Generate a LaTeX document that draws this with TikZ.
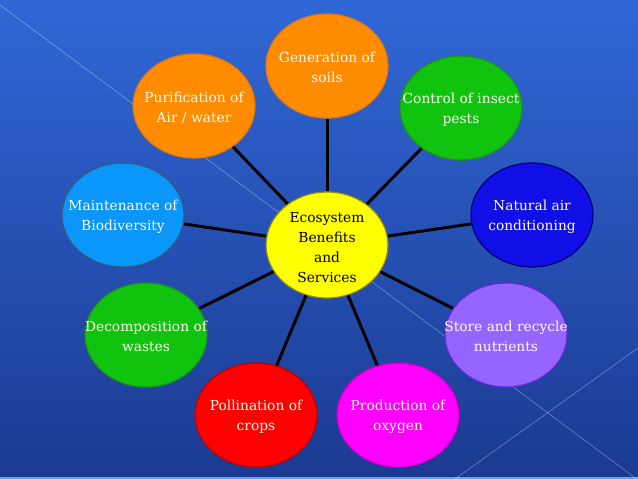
\documentclass[tikz,border=0pt]{standalone}
\usepackage{fontspec}
\setmainfont{DejaVu Serif}
\usetikzlibrary{shapes.geometric}
\definecolor{bgtop}{RGB}{48,103,214}
\definecolor{bgbot}{RGB}{27,58,145}
\definecolor{bgedge}{RGB}{110,160,230}
\definecolor{orfill}{RGB}{255,140,0}   \definecolor{ordraw}{RGB}{225,120,20}
\definecolor{grfill}{RGB}{15,195,15}   \definecolor{grdraw}{RGB}{30,145,30}
\definecolor{lbfill}{RGB}{10,150,250}  \definecolor{lbdraw}{RGB}{50,90,130}
\definecolor{nvfill}{RGB}{15,15,230}   \definecolor{nvdraw}{RGB}{0,0,120}
\definecolor{pufill}{RGB}{150,100,255} \definecolor{pudraw}{RGB}{100,40,220}
\definecolor{rdfill}{RGB}{255,0,0}     \definecolor{rddraw}{RGB}{190,0,0}
\definecolor{mgfill}{RGB}{255,0,255}   \definecolor{mgdraw}{RGB}{200,0,200}
\definecolor{ylfill}{RGB}{255,255,0}   \definecolor{yldraw}{RGB}{140,140,20}
\definecolor{cream}{RGB}{255,250,235}
\tikzset{bubble/.style={ellipse, line width=1.2pt, inner sep=0pt,
           minimum width=122pt, minimum height=104pt},
         bubtext/.style={align=center, inner sep=0pt, text=cream,
           font=\fontsize{13.8}{20}\selectfont},
         spoke/.style={line width=3pt, draw=black},
         gleam/.style={draw=white, opacity=0.35, line width=0.6pt}}

\begin{document}
\begin{tikzpicture}[x=1pt,y=-1pt]
  \useasboundingbox (0,0) rectangle (638,479);
  \shade[top color=bgtop, bottom color=bgbot] (0,0) rectangle (638,479);
  \fill[bgedge] (0,476.5) rectangle (638,479);
  \draw[gleam] (0,5) -- (638,480);
  \draw[gleam] (455,479) -- (638,348);
  % centre
  \node[bubble, fill=ylfill, draw=yldraw, minimum height=106pt] (eco) at (327,245) {};
  \node[bubtext, text=black] (eco-t) at ([yshift=-2.5pt]eco) {Ecosystem\\Benefits\\and\\Services};
  % ring
  \foreach \nm/\px/\py/\fc/\dc/\txt in {
      gen/327/66/orfill/ordraw/{Generation of\\soils},
      pur/194/106/orfill/ordraw/{Purification of\\Air / water},
      ctl/461/108/grfill/grdraw/{Control of insect\\pests},
      mnt/123/215/lbfill/lbdraw/{Maintenance of\\Biodiversity},
      nac/532/215/nvfill/nvdraw/{Natural air\\conditioning},
      dcp/146/335/grfill/grdraw/{Decomposition of\\wastes},
      sto/506/335/pufill/pudraw/{Store and recycle\\nutrients},
      pol/256/415/rdfill/rddraw/{Pollination of\\crops},
      oxy/398/415/mgfill/mgdraw/{Production of\\oxygen}}
  {
    \node[bubble, fill=\fc, draw=\dc] (\nm) at (\px,\py) {};
    \node[bubtext] (\nm-t) at ([yshift=-1.5pt]\nm) {\txt};
    \draw[spoke] (eco) -- (\nm);
  }
\end{tikzpicture}
\end{document}
